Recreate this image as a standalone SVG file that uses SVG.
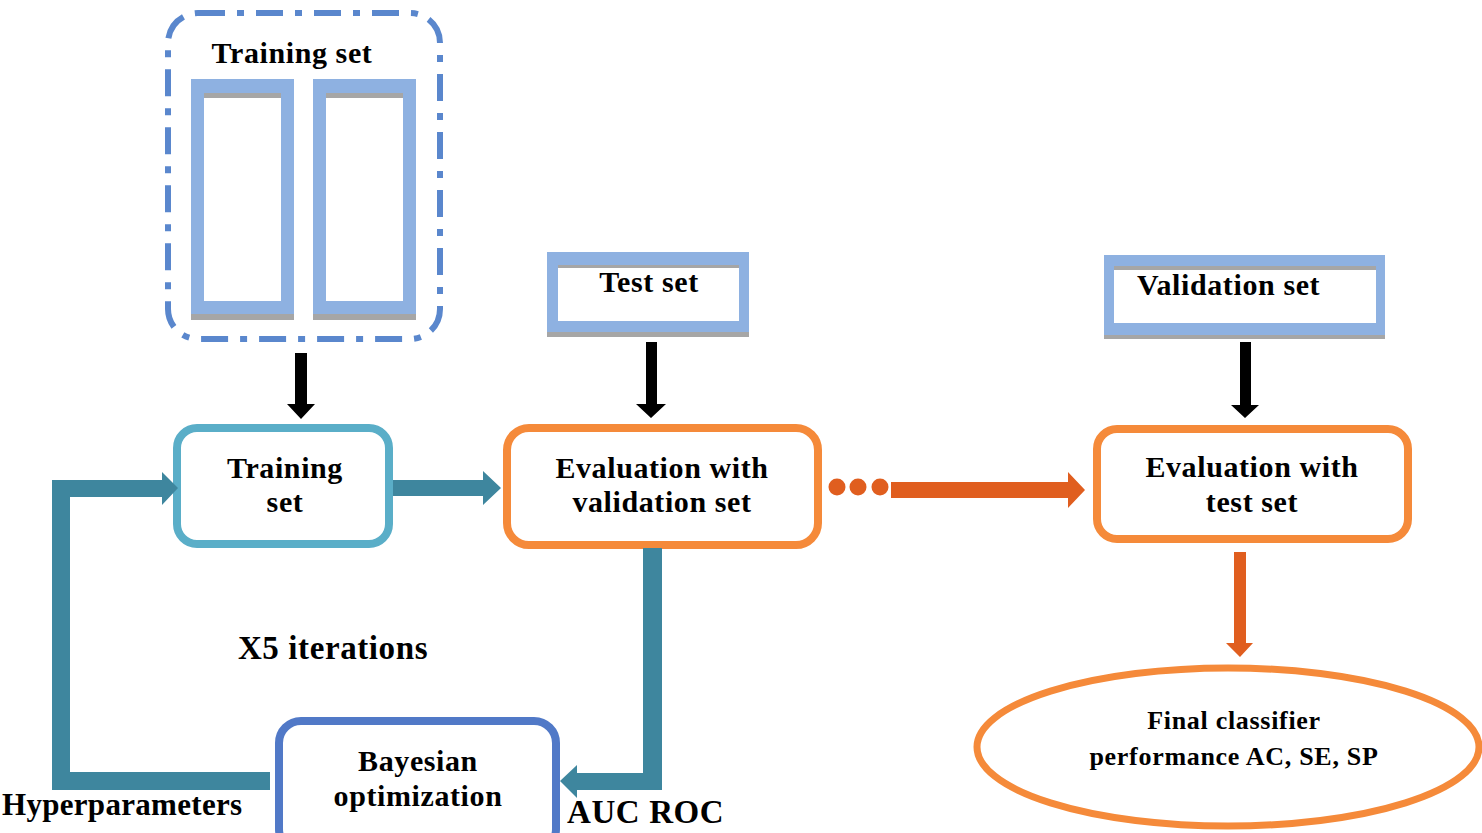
<svg xmlns="http://www.w3.org/2000/svg" width="1482" height="833" viewBox="0 0 1482 833">
<style>
.t{font-family:"Liberation Serif","Times New Roman",serif;font-weight:bold;fill:#000;text-anchor:middle;letter-spacing:0.6px}
.f30{font-size:30px}
.f33{font-size:33px}
.f26{font-size:26px;letter-spacing:0.7px}
.blue{fill:#8EB1E1}
.gray{fill:#A6A6A6}
.white{fill:#FFFFFF}
.box{fill:#FFFFFF;stroke-width:8}
.teal{fill:#3E869E}
.blk{fill:#000}
.org{fill:#E05E1F}
</style>
<rect width="1482" height="833" fill="#FFFFFF"/>

<g id="training-set-group">
<rect x="168" y="13" width="272" height="326" rx="30" fill="none" stroke="#5A87CD" stroke-width="6" stroke-dasharray="27 12 7 12"/>
<rect class="blue" x="191" y="79" width="103" height="235"/>
<rect class="gray" x="191" y="314" width="103" height="6"/>
<rect class="gray" x="204" y="93" width="77" height="5"/>
<rect class="white" x="204" y="98" width="77" height="203"/>
<rect class="blue" x="313" y="79" width="103" height="235"/>
<rect class="gray" x="313" y="314" width="103" height="6"/>
<rect class="gray" x="326" y="93" width="77" height="5"/>
<rect class="white" x="326" y="98" width="77" height="203"/>
<text class="t f30" x="292" y="63">Training set</text>
</g>

<g id="test-set">
<rect class="blue" x="547" y="252" width="202" height="80"/>
<rect class="gray" x="547" y="332" width="202" height="5"/>
<rect class="gray" x="558" y="265" width="181" height="3"/>
<rect class="white" x="558" y="268" width="181" height="53"/>
<text class="t f30" x="649" y="292">Test set</text>
</g>

<g id="validation-set">
<rect class="blue" x="1104" y="255" width="281" height="80"/>
<rect class="gray" x="1104" y="335" width="281" height="4"/>
<rect class="gray" x="1114" y="266" width="262" height="4"/>
<rect class="white" x="1114" y="270" width="262" height="53"/>
<text class="t f30" x="1137" y="295" style="text-anchor:start">Validation set</text>
</g>

<g id="training">
<rect class="box" x="177" y="428" width="212" height="116" rx="20" stroke="#5AAEC8"/>
<text class="t f30" x="285" y="478">Training</text>
<text class="t f30" x="285" y="512">set</text>
</g>

<g id="eval-validation">
<rect class="box" x="507" y="428" width="311" height="117" rx="22" stroke="#F58A3A"/>
<text class="t f30" x="662" y="478">Evaluation with</text>
<text class="t f30" x="662" y="512">validation set</text>
</g>

<g id="eval-test">
<rect class="box" x="1097" y="429" width="311" height="110" rx="20" stroke="#F58A3A"/>
<text class="t f30" x="1252" y="477">Evaluation with</text>
<text class="t f30" x="1252" y="512">test set</text>
</g>

<g id="bayesian">
<rect class="box" x="279" y="721" width="277" height="130" rx="22" stroke="#5179C7"/>
<text class="t f30" x="418" y="771">Bayesian</text>
<text class="t f30" x="418" y="806">optimization</text>
</g>

<g id="final">
<ellipse cx="1228" cy="747" rx="251" ry="79" fill="#FFFFFF" stroke="#F58A3A" stroke-width="7"/>
<text class="t f26" x="1234" y="729">Final classifier</text>
<text class="t f26" x="1234" y="765">performance AC, SE, SP</text>
</g>

<g id="connectors">
<polygon class="blk" points="295,353 307,353 307,404 315,404 301,419 287,404 295,404"/>
<polygon class="blk" points="646,342 657,342 657,404 666,404 651,418 636,404 646,404"/>
<polygon class="blk" points="1240,342 1251,342 1251,405 1259,405 1245,418 1231,405 1240,405"/>
<polygon class="teal" points="393,480 483,480 483,471 501,488 483,505 483,496 393,496"/>
<polygon class="teal" points="643,548 662,548 662,790 577,790 577,798 560,781 577,765 577,773 643,773"/>
<polygon class="teal" points="270,772 270,790 52,790 52,480 162,480 162,472 178,488 162,505 162,497 70,497 70,772"/>
<circle class="org" cx="837" cy="487" r="8.5"/>
<circle class="org" cx="858" cy="487" r="8.5"/>
<circle class="org" cx="880" cy="487" r="8.5"/>
<polygon class="org" points="891,482 1068,482 1068,472 1085,490 1068,508 1068,498 891,498"/>
<polygon class="org" points="1234,552 1246,552 1246,643 1253,643 1240,657 1226,643 1234,643"/>
</g>

<g id="labels">
<text class="t f33" x="333" y="659">X5 iterations</text>
<text class="t" x="2" y="815" style="text-anchor:start;font-size:31px;letter-spacing:0.3px">Hyperparameters</text>
<text class="t f33" x="567" y="823" style="text-anchor:start">AUC ROC</text>
</g>
</svg>
